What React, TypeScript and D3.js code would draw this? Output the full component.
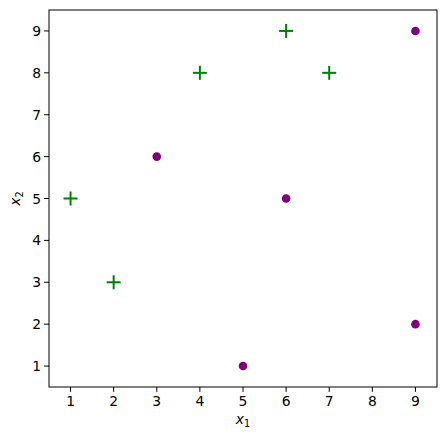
import React from "react";
import * as d3 from "d3";

const purpleX = [3, 6, 9, 9, 5];
const purpleY = [6, 5, 9, 2, 1];
const greenX = [1, 2, 4, 6, 7];
const greenY = [5, 3, 8, 9, 8];
const xTicks = [1, 2, 3, 4, 5, 6, 7, 8, 9];
const yTicks = [1, 2, 3, 4, 5, 6, 7, 8, 9];

export default function App() {
  const W = 446, H = 441;
  const left = 49, top = 10, right = 437, bottom = 387;
  const x = d3.scaleLinear().domain([0.5, 9.5]).range([left, right]);
  const y = d3.scaleLinear().domain([0.5, 9.5]).range([bottom, top]);
  const font = "DejaVu Sans, sans-serif";
  const fs = 13.9;
  const purple = purpleX.map((v, i) => [v, purpleY[i]]);
  const green = greenX.map((v, i) => [v, greenY[i]]);
  return (
    <svg width={W} height={H} style={{ position: "absolute", left: 0, top: 0 }}>
      <rect x={0} y={0} width={W} height={H} fill="white" />
      {green.map(([a, b], i) => (
        <g key={"g" + i} stroke="green" strokeWidth={2}>
          <line x1={x(a) - 7} x2={x(a) + 7} y1={y(b)} y2={y(b)} />
          <line x1={x(a)} x2={x(a)} y1={y(b) - 7} y2={y(b) + 7} />
        </g>
      ))}
      {purple.map(([a, b], i) => (
        <circle key={"p" + i} cx={x(a)} cy={y(b)} r={4.3} fill="purple" />
      ))}
      <rect x={left} y={top} width={right - left} height={bottom - top} fill="none" stroke="black" strokeWidth={1} />
      {xTicks.map((t) => (
        <g key={"xt" + t}>
          <line x1={x(t)} x2={x(t)} y1={bottom} y2={bottom + 4.9} stroke="black" />
          <text x={x(t)} y={bottom + 19} textAnchor="middle" fontFamily={font} fontSize={fs}>{t}</text>
        </g>
      ))}
      {yTicks.map((t) => (
        <g key={"yt" + t}>
          <line x1={left - 4.9} x2={left} y1={y(t)} y2={y(t)} stroke="black" />
          <text x={left - 8} y={y(t) + 5} textAnchor="end" fontFamily={font} fontSize={fs}>{t}</text>
        </g>
      ))}
      <text x={(left + right) / 2} y={424} textAnchor="middle" fontFamily={font} fontSize={fs}>
        <tspan fontStyle="italic">x</tspan>
        <tspan fontSize={fs * 0.7} dy={3}>1</tspan>
      </text>
      <text transform={`translate(20,${(top + bottom) / 2}) rotate(-90)`} textAnchor="middle" fontFamily={font} fontSize={fs}>
        <tspan fontStyle="italic">x</tspan>
        <tspan fontSize={fs * 0.7} dy={3}>2</tspan>
      </text>
    </svg>
  );
}
